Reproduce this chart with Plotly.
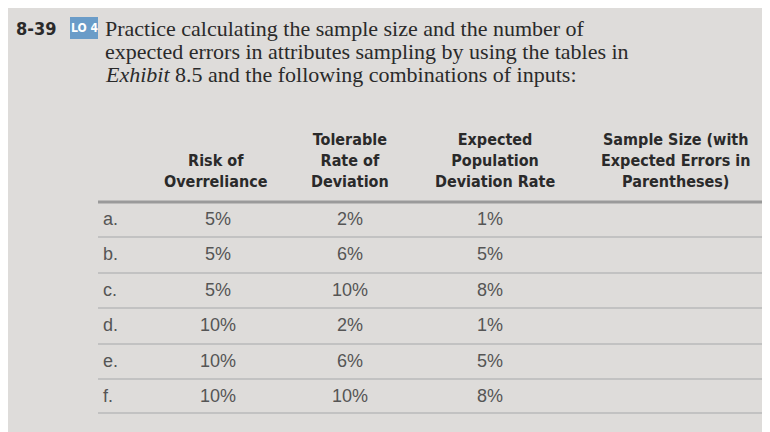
import plotly.graph_objects as go

row_labels = ["a.", "b.", "c.", "d.", "e.", "f."]
risk = ["5%", "5%", "5%", "10%", "10%", "10%"]
tolerable = ["2%", "6%", "10%", "2%", "6%", "10%"]
expected = ["1%", "5%", "8%", "1%", "5%", "8%"]
headers = ["Risk of<br>Overreliance", "Tolerable<br>Rate of<br>Deviation",
           "Expected<br>Population<br>Deviation Rate",
           "Sample Size (with<br>Expected Errors in<br>Parentheses)"]
title_lines = ["Practice calculating the sample size and the number of",
               "expected errors in attributes sampling by using the tables in",
               "<i>Exhibit</i> 8.5 and the following combinations of inputs:"]

col_x = [95, 210, 342, 482]
head_x = [208, 342, 487, 667]
row_y = [212, 247, 283, 318, 354, 389]

fig = go.Figure()
# row separators
for y in [229, 265, 300, 336, 371, 405]:
    fig.add_shape(type="line", x0=90, x1=770, y0=y, y1=y,
                  line=dict(color="#c2c2c2", width=2))
fig.add_shape(type="line", x0=90, x1=770, y0=194, y1=194,
              line=dict(color="#9a9a9a", width=3))

cell_font = dict(family="Liberation Sans", size=18, color="#555555")
for xs, vals in [(col_x[0], row_labels), (col_x[1], risk),
                 (col_x[2], tolerable), (col_x[3], expected)]:
    fig.add_trace(go.Scatter(
        x=[xs] * len(vals), y=row_y, mode="text", text=vals,
        textposition="middle right" if xs == col_x[0] else "middle center",
        textfont=cell_font, hoverinfo="skip"))

for hx, h in zip(head_x, headers):
    fig.add_annotation(x=hx, y=185, text="<b>" + h + "</b>", showarrow=False,
                       yanchor="bottom", xanchor="center",
                       font=dict(family="DejaVu Sans Condensed", size=16, color="#2a2a2a"))

for i, line in enumerate(title_lines):
    fig.add_annotation(x=95, y=20 + i * 23, text=line, showarrow=False,
                       xanchor="left", yanchor="middle",
                       font=dict(family="Liberation Serif", size=22, color="#2a2a2a"))
fig.add_annotation(x=6, y=20, text="<b>8-39</b>", showarrow=False, xanchor="left",
                   font=dict(family="DejaVu Sans Condensed", size=18, color="#2a2a2a"))
fig.add_shape(type="rect", x0=62, x1=90, y0=9, y1=31, fillcolor="#6a9cc8",
              line=dict(width=0))
fig.add_annotation(x=76, y=20, text="<b>LO 4</b>", showarrow=False,
                   font=dict(family="DejaVu Sans Condensed", size=12, color="white"))

fig.update_xaxes(range=[0, 770], visible=False)
fig.update_yaxes(range=[432, 0], visible=False)
fig.update_layout(width=770, height=432, margin=dict(l=0, r=0, t=0, b=0),
                  showlegend=False, paper_bgcolor="#dedcda", plot_bgcolor="#dedcda")
fig.write_html("out.html")
